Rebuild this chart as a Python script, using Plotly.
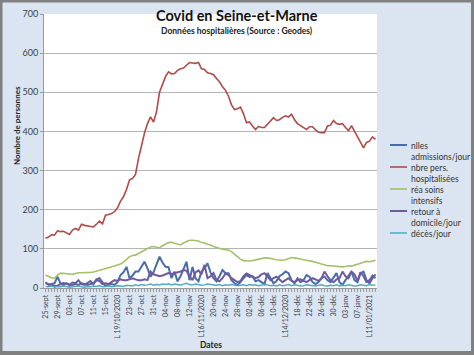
import plotly.graph_objects as go

# ---- data (one value per day, 25 sept 2020 -> 13 janv 2021) ----
tick_labels = ["25-sept", "29-sept", "03-oct", "07-oct", "11-oct", "15-oct", "L 19/10/2020",
               "23-oct", "27-oct", "31-oct", "04-nov", "08-nov", "12-nov", "L16/11/2020",
               "20-nov", "24-nov", "28-nov", "02-déc", "06-déc", "10-déc", "L14/12/2020",
               "18-déc", "22-déc", "26-déc", "30-déc", "03-janv", "07-janv", "L11/01/2021"]

hospitalises = [127, 130, 136, 135, 146, 144, 145, 140, 137, 148, 152,
                148, 163, 160, 159, 158, 156, 163, 171, 164, 186,
                188, 190, 195, 205, 222, 233, 252, 276, 280, 290,
                331, 368, 396, 420, 437, 424, 450, 500, 520, 540,
                552, 547, 548, 556, 560, 562, 569, 576, 575, 574,
                576, 560, 558, 550, 548, 545, 535, 527, 514, 505,
                490, 468, 456, 458, 462, 445, 422, 424, 414, 405,
                413, 410, 410, 418, 428, 435, 428, 430, 436, 440,
                437, 444, 430, 420, 415, 410, 405, 412, 412, 404,
                398, 397, 397, 414, 416, 428, 420, 418, 420, 410,
                402, 415, 400, 385, 370, 358, 372, 375, 386, 380]

rea = [33, 29, 26, 25, 33, 38, 37, 36, 35, 35, 37,
       39, 39, 39, 40, 40, 41, 43, 45, 48, 50,
       52, 54, 56, 59, 61, 66, 72, 80, 83, 84,
       88, 93, 97, 101, 105, 106, 104, 103, 108, 112,
       116, 117, 114, 113, 110, 115, 119, 122, 122, 121,
       120, 116, 115, 112, 110, 106, 103, 101, 99, 98,
       97, 93, 86, 78, 73, 70, 69, 69, 70, 72,
       74, 76, 77, 77, 76, 74, 72, 71, 71, 72,
       75, 78, 77, 76, 74, 72, 71, 70, 68, 66,
       64, 61, 59, 57, 57, 56, 55, 54, 54, 55,
       57, 56, 58, 60, 63, 66, 68, 67, 69, 71]

admissions = [15, 8, 10, 12, 29, 11, 13, 10, 9, 14, 12,
              20, 10, 8, 12, 18, 10, 22, 25, 14, 5,
              8, 10, 8, 15, 33, 40, 54, 25, 32, 42,
              42, 55, 67, 50, 29, 40, 60, 80, 65, 54,
              53, 25, 42, 17, 30, 50, 67, 20, 54, 25,
              17, 42, 50, 63, 40, 25, 17, 30, 46, 38,
              38, 20, 12, 8, 15, 25, 33, 28, 30, 17,
              20, 15, 10, 38, 25, 12, 18, 30, 35, 42,
              38, 20, 12, 25, 15, 20, 33, 29, 15, 10,
              15, 25, 29, 20, 15, 25, 38, 15, 8, 20,
              30, 42, 20, 15, 38, 42, 20, 12, 25, 35]

retours = [12, 10, 8, 5, 6, 10, 8, 12, 6, 8, 10,
           8, 12, 10, 8, 10, 12, 20, 18, 10, 12,
           10, 15, 20, 18, 22, 20, 20, 22, 25, 22,
           20, 20, 22, 20, 42, 35, 33, 30, 32, 35,
           38, 36, 38, 40, 42, 46, 44, 30, 20, 40,
           45, 35, 59, 25, 30, 38, 20, 17, 25, 37,
           33, 25, 20, 15, 18, 30, 37, 33, 30, 25,
           28, 35, 38, 30, 20, 25, 29, 22, 15, 20,
           25, 18, 15, 20, 22, 18, 15, 20, 25, 22,
           18, 25, 42, 30, 20, 15, 22, 25, 42, 30,
           25, 42, 35, 18, 40, 30, 15, 20, 32, 25]

deces = [4, 3, 5, 2, 4, 3, 5, 4, 2, 3, 4,
         5, 3, 2, 4, 3, 5, 4, 6, 3, 4,
         5, 3, 4, 6, 5, 4, 7, 6, 5, 8,
         6, 9, 7, 8, 10, 7, 9, 8, 10, 9,
         11, 8, 10, 9, 7, 10, 12, 9, 8, 10,
         9, 7, 8, 10, 9, 8, 7, 9, 6, 8,
         7, 9, 8, 6, 7, 8, 6, 9, 7, 8,
         6, 7, 9, 8, 6, 7, 5, 8, 6, 7,
         9, 6, 8, 7, 5, 6, 8, 7, 6, 5,
         7, 8, 6, 5, 7, 6, 8, 5, 7, 6,
         8, 7, 5, 6, 8, 7, 6, 9, 7, 8]

series_names = ["nlles<br>admissions/jour", "nbre pers.<br>hospitalisées", "réa soins<br>intensifs",
                "retour à<br>domicile/jour", "décès/jour"]
series_colors = ["#4a6ca8", "#b04b48", "#a4c06a", "#6e5a9c", "#52a8c4"]
series_widths = [2, 1.6, 1.6, 2, 1.5]

days = list(range(len(hospitalises)))
tick_pos = list(range(0, 4 * len(tick_labels), 4))

FONT = "Lato"
fig = go.Figure()
for name, vals, col, w in zip(series_names, [admissions, hospitalises, rea, retours, deces],
                              series_colors, series_widths):
    fig.add_trace(go.Scatter(x=days, y=vals, mode="lines", name=name.replace("<br>", " "),
                             line=dict(color=col, width=w), showlegend=False))

W, H = 474, 355
L, R, T, B = 44, 97, 14, 67
pw, ph = W - L - R, H - T - B


def px(xp):
    return (xp - L) / pw


def py(yp):
    return (H - B - yp) / ph


annotations = [
    dict(text="<b>Covid en Seine-et-Marne</b>", x=px(237), y=py(16), xanchor="center",
         yanchor="middle", font=dict(size=14.5, color="#111111", family=FONT)),
    dict(text="<b>Données hospitalières (Source : Geodes)</b>", x=px(237), y=py(31),
         xanchor="center", yanchor="middle", font=dict(size=8.5, color="#222222", family=FONT)),
    dict(text="<b>Nombre de personnes</b>", x=px(17), y=py(126), xanchor="center",
         yanchor="middle", textangle=-90, font=dict(size=8, color="#222222", family=FONT)),
    dict(text="<b>Dates</b>", x=px(211), y=py(345), xanchor="center", yanchor="middle",
         font=dict(size=8.5, color="#222222", family=FONT)),
]
shapes = [
    dict(type="rect", xref="paper", yref="paper", x0=px(1), x1=px(472.5), y0=py(352.5), y1=py(1),
         line=dict(color="#808080", width=3), fillcolor="rgba(0,0,0,0)", layer="above"),
    dict(type="rect", xref="paper", yref="paper", x0=px(0), x1=px(474), y0=py(355), y1=py(351),
         line=dict(width=0), fillcolor="#808080", layer="above"),
]

# manual legend at the right (lines + text)
leg_y0, leg_step = 145, 22
for i, (name, col, w) in enumerate(zip(series_names, series_colors, series_widths)):
    yy = leg_y0 + i * leg_step
    shapes.append(dict(type="line", xref="paper", yref="paper", x0=px(390), x1=px(407),
                       y0=py(yy), y1=py(yy), line=dict(color=col, width=w)))
    annotations.append(dict(text=name, x=px(409), y=py(yy - 6.5), xanchor="left", yanchor="top",
                            align="left", font=dict(size=8.5, color="#333333", family=FONT)))

for a in annotations:
    a.update(xref="paper", yref="paper", showarrow=False)

fig.update_layout(
    width=W, height=H,
    margin=dict(l=L, r=R, t=T, b=B, pad=0),
    paper_bgcolor="#dbe5f1", plot_bgcolor="white",
    font=dict(family=FONT, size=9, color="#404040"),
    showlegend=False,
    xaxis=dict(range=[-0.5, len(days) - 0.5], tickmode="array", tickvals=tick_pos,
               ticktext=tick_labels, tickangle=-90, tickfont=dict(size=7),
               showgrid=False, showline=True, linecolor="#9a9a9a", linewidth=1,
               ticks="outside", ticklen=3, tickcolor="#9a9a9a",
               minor=dict(dtick=1, tick0=0, ticks="outside", ticklen=3, tickcolor="#9a9a9a"),
               zeroline=False, automargin=False),
    yaxis=dict(range=[0, 700], dtick=100, showgrid=True, gridcolor="#b4b4b4", gridwidth=1,
               showline=True, linecolor="#9a9a9a", linewidth=1, ticks="outside", ticklen=3,
               tickcolor="#9a9a9a", tickfont=dict(size=9), zeroline=False, automargin=False),
    annotations=annotations,
    shapes=shapes,
)

fig.write_html("out.html", config={"displayModeBar": False},
               post_script="document.body.style.margin='0px';"
                           "document.body.style.overflow='hidden';")
